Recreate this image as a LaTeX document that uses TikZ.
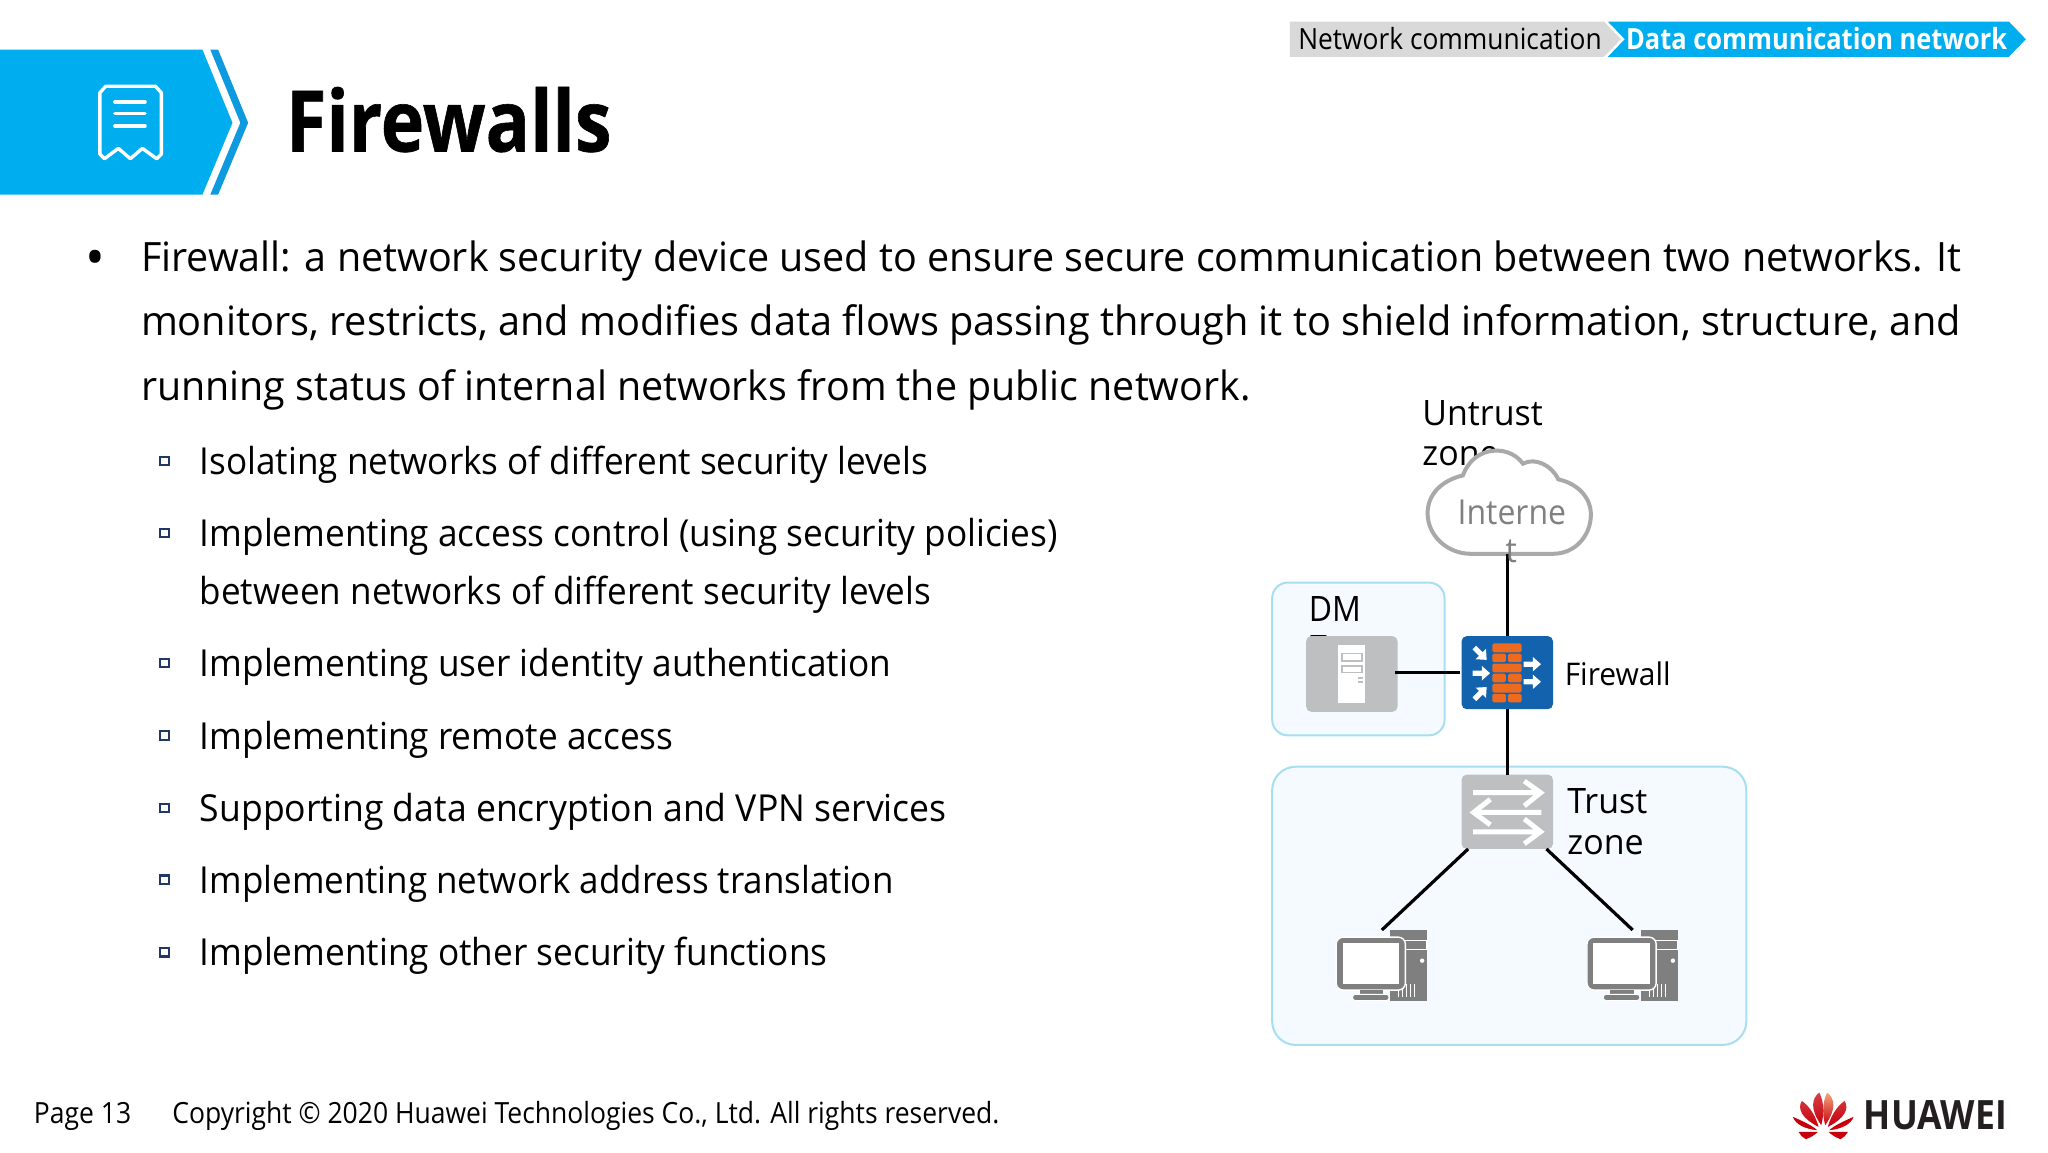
\documentclass[tikz,border=0pt]{standalone}
\usepackage{fontspec}
\setmainfont[FakeStretch=0.93]{Open Sans}
\newfontfamily\fbody[FakeStretch=0.975]{Open Sans}
\newfontfamily\fsub[FakeStretch=0.947]{Open Sans}
\newfontfamily\ffoot[FakeStretch=0.907]{Open Sans}
\newfontfamily\fcrumb[FakeStretch=0.902]{Open Sans}
\newfontfamily\fcrumbb[FakeStretch=0.88]{Open Sans}
\newfontfamily\ftitle[FakeStretch=0.865,BoldFeatures={FakeStretch=0.865,FakeBold=0.7}]{Open Sans}
\newfontfamily\fzone[FakeStretch=0.97]{Open Sans}
\newfontfamily\flabel[FakeStretch=0.96]{Open Sans}
\newcommand\upx{0.65306pt}
\newcommand\fsz[1]{\fontsize{#1}{#1}\selectfont}
\definecolor{hblue}{HTML}{00AEEF}
\definecolor{hblue2}{HTML}{0F9AE0}
\definecolor{crumb}{HTML}{D9D9D9}
\definecolor{zoneline}{HTML}{A5DFF0}
\definecolor{zonefill}{HTML}{F4FAFF}
\definecolor{devgray}{HTML}{BEBFC0}
\definecolor{pcgray}{HTML}{7F7F7F}
\definecolor{fwblue}{HTML}{1262AE}
\definecolor{brick}{HTML}{EE6A1F}
\definecolor{cloudline}{HTML}{A9A9A9}
\definecolor{cloudtext}{HTML}{808080}
\definecolor{navy}{HTML}{1F3864}
\definecolor{hred}{HTML}{C7000B}
\definecolor{hpeach}{HTML}{F4A67E}
\definecolor{hdark}{HTML}{231F20}
\tikzset{
  txt/.style={anchor=base west,inner sep=0pt,outer sep=0pt},
  bodytxt/.style={txt,font=\fbody\fsz{20.2}},
  subtxt/.style={txt,font=\fsub\fsz{18.6}},
  foottxt/.style={txt,font=\ffoot\fsz{14.6}},
  zonetxt/.style={txt,font=\fzone\fsz{17.5}},
  subbullet/.style={draw=navy,line width=1.1pt,fill=white,inner sep=0pt,minimum size=6.5*\upx},
  device/.style={inner sep=0pt,outer sep=0pt,minimum width=70*\upx,rounded corners=4*\upx},
  zone/.style={draw=zoneline,fill=zonefill,line width=1pt,inner sep=0pt,outer sep=0pt},
  link/.style={line width=1.6pt,black},
  slot/.style={draw=devgray,line width=0.7pt,fill=white},
  swarrow/.style={white,line width=2.5pt,line join=miter},
  fit x/.style={transform shape,xscale=#1},
  pcicon/.pic={
    \fill[pcgray] (41,0) rectangle (69.5,54);
    \draw[white,line width=0.6pt] (43,8) -- (69.5,8) -- (69.5,15) -- (43,15);
    \fill[white] (65.8,23.5) circle (1.7);
    \foreach \vx in {48,51,54,57,60} \draw[white,line width=0.6pt] (\vx,41) -- (\vx,51);
    \draw[white,line width=0.7pt,fill=pcgray,rounded corners=3.5] (0,5.5) rectangle (53,46);
    \fill[white] (5,10) rectangle (48,41);
    \fill[pcgray] (18,46) rectangle (36,49.5);
    \draw[white,line width=0.4pt,fill=pcgray,rounded corners=1.5] (12.5,49.3) rectangle (40.5,54);
  }
}
\newcommand\petalset[1]{%
  \shade[top color=#1,bottom color=hred] (213,135) .. controls (178,85) and (185,55) .. (207,37) .. controls (219,60) and (224,95) .. (213,135) -- cycle;
  \shade[top color=hred!80!white,bottom color=hred] (205,140) .. controls (155,115) and (140,85) .. (155,62) .. controls (180,80) and (197,110) .. (205,140) -- cycle;
  \fill[hred] (201,150) .. controls (165,147) and (135,132) .. (128,110) .. controls (155,122) and (185,135) .. (201,150) -- cycle;
  \fill[hred] (145,155) -- (203,155) .. controls (192,166) and (180,172) .. (167,177) .. controls (157,172) and (150,165) .. (145,155) -- cycle;
}
\newcommand\wharrow[3]{\fill[white,shift={(#1,#2)},rotate=#3] (-6.5,-2) -- (0.5,-2) -- (0.5,-5.6) -- (6.8,0) -- (0.5,5.6) -- (0.5,2) -- (-6.5,2) -- cycle;}
\begin{document}
\begin{tikzpicture}[x=0.65306pt,y=-0.65306pt]
\useasboundingbox (0,0) rectangle (1568,882);
\fill[white] (0,0) rectangle (1568,882);
% header band
\fill[hblue] (0,38) -- (155,38) -- (178,94) -- (155,149) -- (0,149) -- cycle;
\fill[hblue2] (161,38) -- (167,38) -- (190,94) -- (167,149) -- (161,149) -- (184,94) -- cycle;
\draw[white,line width=1.7pt,line join=round] (81,66) -- (119,66) -- (123.5,71) -- (123.5,118) -- (120,121.5) -- (109,113.6) -- (99.8,121.5) -- (90.6,113.6) -- (80,121.5) -- (76.5,118) -- (76.5,71) -- cycle;
\draw[white,line width=1.8pt,line cap=round] (88,78) -- (111,78) (88,87) -- (111,87) (88,96.5) -- (111,96.5);
\node[txt,font=\ftitle\fsz{42.5}\bfseries] (title) at (219,116) {Firewalls};
% breadcrumb
\fill[crumb] (987.5,16.5) -- (1228,16.5) -- (1241,30) -- (1228,43.5) -- (987.5,43.5) -- cycle;
\fill[hblue] (1231,16.5) -- (1538,16.5) -- (1551,30) -- (1538,43.5) -- (1231,43.5) -- (1244,30) -- cycle;
\node[txt,font=\fcrumb\fsz{14.6}] (crumbA) at (994,38) {Network communication};
\node[txt,text=white,font=\fcrumbb\fsz{14.6}\bfseries,fit x=0.99] (crumbB) at (1245,38) {Data communication network};
% body
\node[txt,font=\fbody\fsz{27}] (dot) at (65.5,212) {•};
\node[bodytxt,fit x=1.002] (l1) at (108,208) {Firewall: a network security device used to ensure secure communication between two networks. It};
\node[bodytxt,fit x=1.008] (l2) at (108,257) {monitors, restricts, and modifies data flows passing through it to shield information, structure, and};
\node[bodytxt] (l3) at (108,306.5) {running status of internal networks from the public network.};
\node[subbullet] (b1) at (126,353) {};
\node[subbullet] (b2) at (126,408) {};
\node[subbullet] (b3) at (126,507.5) {};
\node[subbullet] (b4) at (126,563) {};
\node[subbullet] (b5) at (126,618.5) {};
\node[subbullet] (b6) at (126,673.5) {};
\node[subbullet] (b7) at (126,729) {};
\node[subtxt,fit x=0.996] (s1) at (153,363) {Isolating networks of different security levels};
\node[subtxt] (s2) at (153,418.5) {Implementing access control (using security policies)};
\node[subtxt,fit x=0.995] (s2b) at (153,462.5) {between networks of different security levels};
\node[subtxt] (s3) at (153,518) {Implementing user identity authentication};
\node[subtxt] (s4) at (153,573.5) {Implementing remote access};
\node[subtxt,fit x=1.01] (s5) at (153,629) {Supporting data encryption and VPN services};
\node[subtxt,fit x=0.9925] (s6) at (153,684) {Implementing network address translation};
\node[subtxt] (s7) at (153,739.5) {Implementing other security functions};
% footer
\node[foottxt] (page) at (26,860) {Page 13};
\node[foottxt] (copy) at (132,860) {Copyright © 2020 Huawei Technologies Co., Ltd. All rights reserved.};
% logo
\begin{scope}[shift={(1340,827)},x=0.1667pt,y=-0.1667pt]
\petalset{hred!75!white}
\begin{scope}[xshift=73pt,xscale=-1]
\petalset{hpeach}
\end{scope}
\end{scope}
\node[txt,font=\fcrumbb\fsz{20.2}\bfseries,text=hdark] (brand) at (1427,865) {HUAWEI};
% zones
\node[zone,rounded corners=12*\upx,minimum width=132*\upx,minimum height=117*\upx] (dmz) at (1040,504.5) {};
\node[zone,rounded corners=18*\upx,minimum width=363*\upx,minimum height=213*\upx] (trust) at (1155.5,693.5) {};
% labels hidden behind icons
\node[zonetxt] (untrust) at (1089,325.5) {Untrust};
\node[zonetxt] (untrustb) at (1089,356.5) {zone};
\node[zonetxt,fit x=0.94] (dmzA) at (1002,475.5) {DM};
\node[zonetxt] (dmzB) at (1002,506) {Z};
% cloud
\node[inner sep=0pt,outer sep=0pt,minimum width=125*\upx,minimum height=80*\upx] (cloud) at (1155.5,384.5) {};
\draw[cloudline,fill=white,line width=2pt] (1126,424) -- (1189,424) .. controls (1206,424) and (1218,410) .. (1218,394) .. controls (1218,380) and (1207,370) .. (1193,367) .. controls (1188,356) and (1175,350) .. (1166,355) .. controls (1161,348) and (1153,345) .. (1146,345) .. controls (1133,345) and (1124,353) .. (1120,364) .. controls (1103,368) and (1093,379) .. (1093,393) .. controls (1093,410) and (1108,424) .. (1126,424) -- cycle;
% devices
\node[device,fill=fwblue,minimum height=56*\upx] (fw) at (1154,515) {};
\node[device,fill=devgray,minimum height=58*\upx] (srv) at (1035,516) {};
\node[device,fill=devgray,minimum height=57*\upx] (sw) at (1154,621.5) {};
\node[inner sep=0pt,outer sep=0pt,minimum width=70*\upx,minimum height=54*\upx] (pc1) at (1058,739) {};
\node[inner sep=0pt,outer sep=0pt,minimum width=70*\upx,minimum height=54*\upx] (pc2) at (1250,739) {};
\coordinate (srvr) at (1068,515);
\coordinate (fwl) at (1117.5,515);
\coordinate (swl) at (1124,650);
\coordinate (swr) at (1184,650);
\coordinate (cloudb) at (1154,424);
% connectors
\draw[link] (cloudb) -- (cloudb |- fw.north);
\draw[link] (srvr) -- (fwl);
\draw[link] (fw.south) -- (sw.north);
\draw[link] (swl) -- (pc1.north);
\draw[link] (swr) -- (pc2.north);
% firewall details
\begin{scope}[shift={(fw.north west)}]
\foreach \ya/\yb in {5.6/12.4,21/27.8,36.4/43.2} \fill[brick,rounded corners=0.8] (23.5,\ya) rectangle (46,\yb);
\foreach \ya/\yb in {13.4/20,28.8/35.4,44.2/50.8} {
  \fill[brick,rounded corners=0.8] (23.5,\ya) rectangle (34,\yb);
  \fill[brick,rounded corners=0.8] (35.5,\ya) rectangle (46,\yb);
}
\wharrow{14.4}{13.4}{-45}
\wharrow{15}{28.4}{0}
\wharrow{14.4}{43.8}{45}
\wharrow{54}{21.5}{0}
\wharrow{54}{35}{0}
\end{scope}
% server details
\begin{scope}[shift={(srv.north west)}]
\fill[white] (24.5,7) rectangle (45,51.5);
\draw[slot] (27.5,13.3) rectangle (42.8,19);
\draw[slot] (27.5,23) rectangle (42.8,28);
\draw[devgray,line width=1pt] (40,32) -- (43.4,32) (40,35) -- (43.4,35);
\end{scope}
% switch details
\begin{scope}[shift={(sw.north west)}]
\draw[swarrow] (8.9,13.9) -- (60,13.9) (48,5) -- (60.5,13.9) -- (48,24);
\draw[swarrow] (61,29) -- (9.8,29) (22,19) -- (9.2,29) -- (22,38.5);
\draw[swarrow] (8.9,43.8) -- (60,43.8) (48,34) -- (60.5,43.8) -- (48,53);
\end{scope}
\pic at (pc1.north west) {pcicon};
\pic at (pc2.north west) {pcicon};
% labels on top
\node[txt,font=\fsz{17.2},text=cloudtext,anchor=base] (inet) at (1157.5,401.5) {Interne};
\node[txt,font=\fsz{17.2},text=cloudtext,anchor=base] (inetb) at (1157,431) {t};
\node[txt,font=\flabel\fsz{15.6}] (fwlabel) at (1198,525) {Firewall};
\node[zonetxt] (trustA) at (1200,623) {Trust};
\node[zonetxt] (trustB) at (1200,654.5) {zone};
\end{tikzpicture}
\end{document}
